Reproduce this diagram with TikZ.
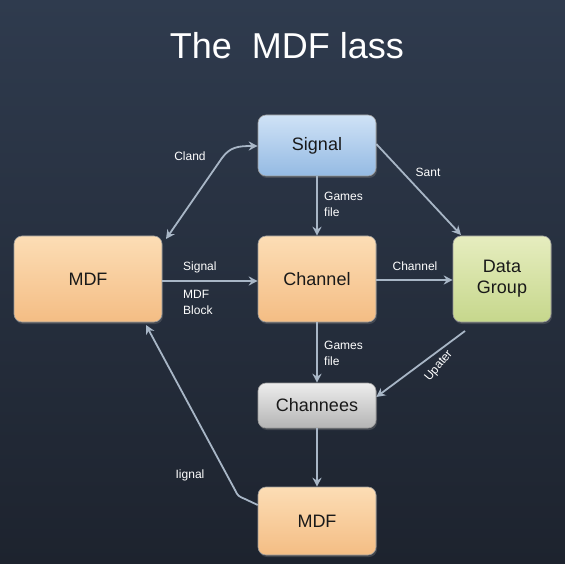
\documentclass[tikz,border=0pt]{standalone}
\usepackage{fontspec}
\setmainfont{Liberation Sans}
\usetikzlibrary{arrows.meta,shadows}
\definecolor{bgtop}{HTML}{2F3B4E}
\definecolor{bgbot}{HTML}{1D232E}
\definecolor{arr}{HTML}{A8B6C6}
\definecolor{bluetop}{HTML}{CFE2F6}
\definecolor{bluebot}{HTML}{94BAE3}
\definecolor{ortop}{HTML}{FCDDB5}
\definecolor{orbot}{HTML}{F4BD84}
\definecolor{grtop}{HTML}{E6EDBF}
\definecolor{grbot}{HTML}{C6D78C}
\definecolor{gytop}{HTML}{EDEDED}
\definecolor{gybot}{HTML}{B4B4B4}
\tikzset{
  box/.style={rounded corners=8pt, draw=black!40, line width=0.6pt, align=center,
    text=black!90, font=\fontsize{18}{21}\selectfont, inner sep=0pt,
    drop shadow={shadow xshift=1pt, shadow yshift=-2pt, opacity=0.35}},
  bluebox/.style={box, top color=bluetop, bottom color=bluebot},
  orbox/.style={box, top color=ortop, bottom color=orbot},
  grbox/.style={box, top color=grtop, bottom color=grbot},
  gybox/.style={box, top color=gytop, bottom color=gybot},
  conn/.style={draw=arr, line width=1.8pt, -{Stealth[length=9pt,width=9pt]}},
  lbl/.style={text=white, font=\fontsize{12}{16}\selectfont, align=left, inner sep=0pt}
}
\begin{document}
\begin{tikzpicture}[x=1pt,y=-1pt]
\useasboundingbox (0,0) rectangle (565,564);
\shade[top color=bgtop, bottom color=bgbot] (0,0) rectangle (565,564);
\node[text=white, font=\fontsize{36}{40}\selectfont] (title) at (287,46) {The\ \ MDF lass};

\node[bluebox, minimum width=118pt, minimum height=61pt] (sig) at (317,145.5) {Signal};
\node[orbox, minimum width=148pt, minimum height=86pt] (mdf) at (88,279) {MDF};
\node[orbox, minimum width=118pt, minimum height=86pt] (ch) at (317,279) {Channel};
\node[grbox, minimum width=98pt, minimum height=86pt] (dg) at (502,279) {Data\\Group};
\node[gybox, minimum width=118pt, minimum height=45pt] (chs) at (317,405.5) {Channees};
\node[orbox, minimum width=118pt, minimum height=68pt] (mdf2) at (317,521) {MDF};

% Signal <-> MDF
\coordinate (m1) at (166,239);
\draw[conn, {Stealth[length=9pt,width=9pt]}-{Stealth[length=9pt,width=9pt]}]
  (m1) -- (222,158) .. controls (230,147) and (238,146) .. (sig.west |- 0,146);
\node[lbl] (l1) at (190,156) {Cland};

% Signal -> Channel
\draw[conn] (sig.south) -- (ch.north);
\node[lbl, anchor=west] (l2) at (324,204) {Games\\file};

% Signal -> Data Group
\coordinate (dgn) at (461,235);
\draw[conn] (sig.east |- 0,144) -- (dgn);
\node[lbl] (l3) at (428,172) {Sant};

% MDF -> Channel
\draw[conn] (mdf.east) ++(0,2) coordinate (a1) (a1) -- (ch.west |- a1);
\node[lbl, anchor=west] (l4) at (183,267) {Signal};
\node[lbl, anchor=west] (l5) at (183,302) {MDF\\Block};

% Channel -> Data Group
\draw[conn] (ch.east) ++(0,1) coordinate (a2) (a2) -- (dg.west |- a2);
\node[lbl] (l6) at (415,266) {Channel};

% Channel -> Channees
\draw[conn] (ch.south) -- (chs.north);
\node[lbl, anchor=west] (l7) at (324,353) {Games\\file};

% Data Group -> Channees
\coordinate (dgs) at (465,331);
\draw[conn] (dgs) -- (chs.east |- 0,397);
\node[lbl, rotate=50] (l8) at (439,366) {Upater};

% Channees -> MDF2
\draw[conn] (chs.south) -- (mdf2.north);

% MDF2 -> MDF
\draw[conn] (mdf2.west |- 0,505) -- (245,499) .. controls (238,496) .. (235,490) -- (146,325);
\node[lbl] (l9) at (190,475) {Iignal};
\end{tikzpicture}
\end{document}
